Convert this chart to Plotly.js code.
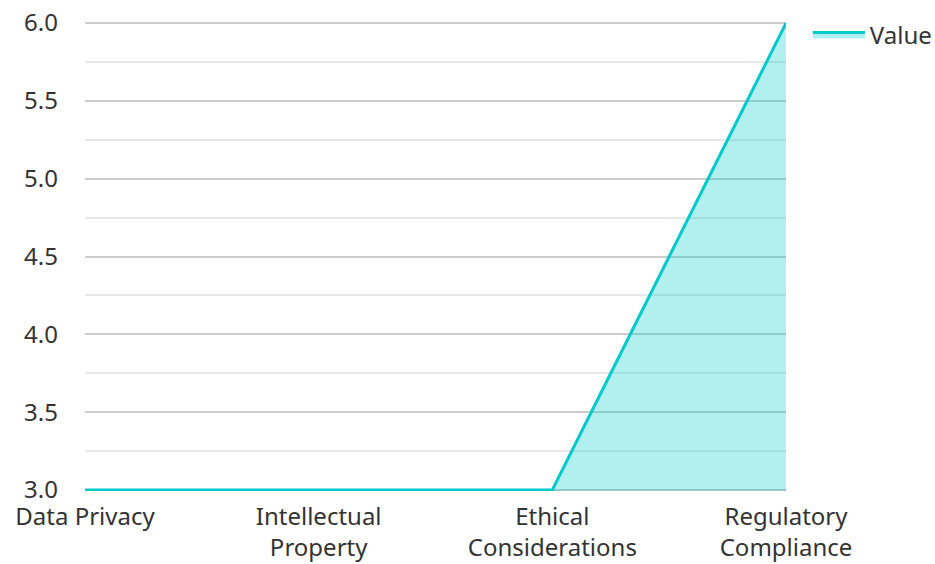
<!DOCTYPE html>
<html><head><meta charset="utf-8">
<script src="https://cdn.plot.ly/plotly-3.0.1.min.js"></script>
<style>html,body{margin:0;padding:0;background:#fff}#chart{width:935px;height:564px}</style>
</head><body><div id="chart"></div>
<script>
const categories = ["Data Privacy", "Intellectual<br>Property", "Ethical<br>Considerations", "Regulatory<br>Compliance"];
const values = [3, 3, 3, 6];
const seriesName = "Value";
const yTicks = [3.0, 3.5, 4.0, 4.5, 5.0, 5.5, 6.0];

const trace = {
  x: categories, y: values, name: seriesName, type: 'scatter', mode: 'lines',
  line: {color: '#00c9c9', width: 3},
  fill: 'tozeroy', fillcolor: 'rgba(0,201,201,0.3)'
};
const layout = {
  width: 935, height: 564,
  margin: {l: 85, r: 149, t: 22, b: 73},
  paper_bgcolor: '#fff', plot_bgcolor: '#fff',
  font: {family: 'Noto Sans, sans-serif', size: 24, color: '#333'},
  showlegend: true,
  legend: {xref: 'container', yref: 'container', x: 0.864, y: 0.938, xanchor: 'left', yanchor: 'middle',
           itemwidth: 52, font: {size: 24, color: '#333'}},
  xaxis: {type: 'category', range: [0, 3], showgrid: false, zeroline: false, showline: false,
          ticks: '', ticklabelstandoff: 9, automargin: false, tickfont: {size: 24, color: '#333'}},
  yaxis: {range: [2.993, 6.007], tickvals: yTicks, tickformat: '.1f', showgrid: true, gridcolor: '#cccccc', gridwidth: 1.5,
          zeroline: false, showline: false, ticks: '', ticklabelstandoff: 26, automargin: false,
          tickfont: {size: 24, color: '#333'},
          minor: {dtick: 0.25, tick0: 3, showgrid: true, gridcolor: '#e8e8e8', gridwidth: 1.5}}
};
Plotly.newPlot('chart', [trace], layout, {displayModeBar: false});
</script></body></html>
